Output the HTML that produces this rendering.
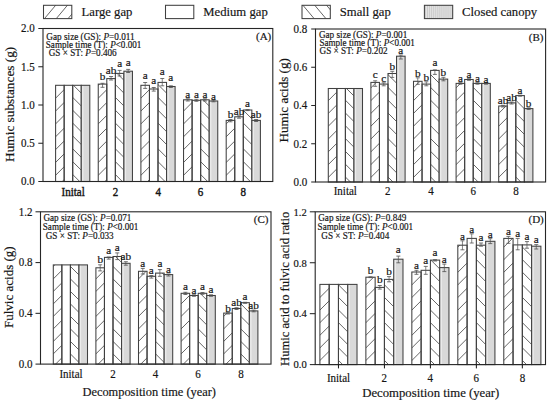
<!DOCTYPE html>
<html><head><meta charset="utf-8"><style>
html,body{margin:0;padding:0;background:#fff;}
svg{display:block;}
text{font-family:"Liberation Serif", serif;fill:#141414;stroke:#141414;stroke-width:0.18px;}
</style></head><body>
<svg width="550" height="403" viewBox="0 0 550 403">
<rect width="550" height="403" fill="#fff"/>
<clipPath id="c0"><rect x="43.5" y="5.3" width="28.3" height="13.3"/></clipPath>
<path clip-path="url(#c0)" d="M31.00 20.60L45.50 3.30M42.80 20.60L57.30 3.30M54.60 20.60L69.10 3.30M66.40 20.60L80.90 3.30" stroke="#4a4a4a" stroke-width="0.85" fill="none"/>
<rect x="43.5" y="5.3" width="28.3" height="13.3" fill="none" stroke="#404040" stroke-width="1.05"/>
<text transform="translate(81.50,16.20) scale(0.955,1)" font-size="13.30" text-anchor="start" font-weight="normal" >Large gap</text>
<rect x="165.5" y="5.3" width="28.3" height="13.3" fill="none" stroke="#404040" stroke-width="1.05"/>
<text transform="translate(203.20,16.20) scale(0.955,1)" font-size="13.30" text-anchor="start" font-weight="normal" >Medium gap</text>
<clipPath id="c2"><rect x="302.0" y="5.3" width="28.3" height="13.3"/></clipPath>
<path clip-path="url(#c2)" d="M289.50 3.30L304.00 20.60M301.30 3.30L315.80 20.60M313.10 3.30L327.60 20.60M324.90 3.30L339.40 20.60" stroke="#4a4a4a" stroke-width="0.85" fill="none"/>
<rect x="302.0" y="5.3" width="28.3" height="13.3" fill="none" stroke="#404040" stroke-width="1.05"/>
<text transform="translate(339.70,16.20) scale(0.955,1)" font-size="13.30" text-anchor="start" font-weight="normal" >Small gap</text>
<rect x="424.4" y="5.3" width="28.3" height="13.3" fill="#e4e4e4"/>
<rect x="425.00" y="5.3" width="1.0" height="13.3" fill="#cacaca"/><rect x="427.05" y="5.3" width="1.0" height="13.3" fill="#cacaca"/><rect x="429.10" y="5.3" width="1.0" height="13.3" fill="#cacaca"/><rect x="431.15" y="5.3" width="1.0" height="13.3" fill="#cacaca"/><rect x="433.20" y="5.3" width="1.0" height="13.3" fill="#cacaca"/><rect x="435.25" y="5.3" width="1.0" height="13.3" fill="#cacaca"/><rect x="437.30" y="5.3" width="1.0" height="13.3" fill="#cacaca"/><rect x="439.35" y="5.3" width="1.0" height="13.3" fill="#cacaca"/><rect x="441.40" y="5.3" width="1.0" height="13.3" fill="#cacaca"/><rect x="443.45" y="5.3" width="1.0" height="13.3" fill="#cacaca"/><rect x="445.50" y="5.3" width="1.0" height="13.3" fill="#cacaca"/><rect x="447.55" y="5.3" width="1.0" height="13.3" fill="#cacaca"/><rect x="449.60" y="5.3" width="1.0" height="13.3" fill="#cacaca"/><rect x="451.65" y="5.3" width="1.0" height="13.3" fill="#cacaca"/>
<rect x="424.4" y="5.3" width="28.3" height="13.3" fill="none" stroke="#404040" stroke-width="1.05"/>
<text transform="translate(462.10,16.20) scale(0.955,1)" font-size="13.30" text-anchor="start" font-weight="normal" >Closed canopy</text>
<clipPath id="c4"><rect x="55.60" y="85.30" width="8.55" height="96.20"/></clipPath>
<path clip-path="url(#c4)" d="M55.10 60.15L64.65 50.60M55.10 73.00L64.65 63.45M55.10 85.85L64.65 76.30M55.10 98.70L64.65 89.15M55.10 111.55L64.65 102.00M55.10 124.40L64.65 114.85M55.10 137.25L64.65 127.70M55.10 150.10L64.65 140.55M55.10 162.95L64.65 153.40M55.10 175.80L64.65 166.25M55.10 188.65L64.65 179.10M55.10 201.50L64.65 191.95M55.10 214.35L64.65 204.80" stroke="#4a4a4a" stroke-width="0.85" fill="none"/>
<rect x="55.60" y="85.30" width="8.55" height="96.20" fill="none" stroke="#404040" stroke-width="1.05"/>
<rect x="64.15" y="85.30" width="8.55" height="96.20" fill="none" stroke="#404040" stroke-width="1.05"/>
<clipPath id="c6"><rect x="72.70" y="85.30" width="8.55" height="96.20"/></clipPath>
<path clip-path="url(#c6)" d="M72.20 58.35L81.75 67.90M72.20 71.20L81.75 80.75M72.20 84.05L81.75 93.60M72.20 96.90L81.75 106.45M72.20 109.75L81.75 119.30M72.20 122.60L81.75 132.15M72.20 135.45L81.75 145.00M72.20 148.30L81.75 157.85M72.20 161.15L81.75 170.70M72.20 174.00L81.75 183.55M72.20 186.85L81.75 196.40M72.20 199.70L81.75 209.25M72.20 212.55L81.75 222.10" stroke="#4a4a4a" stroke-width="0.85" fill="none"/>
<rect x="72.70" y="85.30" width="8.55" height="96.20" fill="none" stroke="#404040" stroke-width="1.05"/>
<rect x="81.25" y="85.30" width="8.55" height="96.20" fill="#d9d9d9"/>
<rect x="82.15" y="85.30" width="1.3" height="96.20" fill="#ececec"/>
<rect x="81.25" y="85.30" width="8.55" height="96.20" fill="none" stroke="#404040" stroke-width="1.05"/>
<clipPath id="c8"><rect x="98.25" y="84.10" width="8.55" height="97.40"/></clipPath>
<path clip-path="url(#c8)" d="M97.75 60.15L107.30 50.60M97.75 73.00L107.30 63.45M97.75 85.85L107.30 76.30M97.75 98.70L107.30 89.15M97.75 111.55L107.30 102.00M97.75 124.40L107.30 114.85M97.75 137.25L107.30 127.70M97.75 150.10L107.30 140.55M97.75 162.95L107.30 153.40M97.75 175.80L107.30 166.25M97.75 188.65L107.30 179.10M97.75 201.50L107.30 191.95M97.75 214.35L107.30 204.80" stroke="#4a4a4a" stroke-width="0.85" fill="none"/>
<rect x="98.25" y="84.10" width="8.55" height="97.40" fill="none" stroke="#404040" stroke-width="1.05"/>
<rect x="106.80" y="78.60" width="8.55" height="102.90" fill="none" stroke="#404040" stroke-width="1.05"/>
<clipPath id="c10"><rect x="115.35" y="73.40" width="8.55" height="108.10"/></clipPath>
<path clip-path="url(#c10)" d="M114.85 45.50L124.40 55.05M114.85 58.35L124.40 67.90M114.85 71.20L124.40 80.75M114.85 84.05L124.40 93.60M114.85 96.90L124.40 106.45M114.85 109.75L124.40 119.30M114.85 122.60L124.40 132.15M114.85 135.45L124.40 145.00M114.85 148.30L124.40 157.85M114.85 161.15L124.40 170.70M114.85 174.00L124.40 183.55M114.85 186.85L124.40 196.40M114.85 199.70L124.40 209.25M114.85 212.55L124.40 222.10" stroke="#4a4a4a" stroke-width="0.85" fill="none"/>
<rect x="115.35" y="73.40" width="8.55" height="108.10" fill="none" stroke="#404040" stroke-width="1.05"/>
<rect x="123.90" y="71.20" width="8.55" height="110.30" fill="#d9d9d9"/>
<rect x="124.80" y="71.20" width="1.3" height="110.30" fill="#ececec"/>
<rect x="123.90" y="71.20" width="8.55" height="110.30" fill="none" stroke="#404040" stroke-width="1.05"/>
<line x1="102.53" y1="83.30" x2="102.53" y2="87.30" stroke="#505050" stroke-width="0.7"/>
<line x1="100.53" y1="83.30" x2="104.53" y2="83.30" stroke="#505050" stroke-width="0.8"/>
<line x1="100.53" y1="87.30" x2="104.53" y2="87.30" stroke="#505050" stroke-width="0.8"/>
<text x="102.53" y="80.00" font-size="11.2" text-anchor="middle" font-weight="normal" >b</text>
<line x1="111.08" y1="76.50" x2="111.08" y2="80.00" stroke="#505050" stroke-width="0.7"/>
<line x1="109.08" y1="76.50" x2="113.08" y2="76.50" stroke="#505050" stroke-width="0.8"/>
<line x1="109.08" y1="80.00" x2="113.08" y2="80.00" stroke="#505050" stroke-width="0.8"/>
<text x="111.08" y="74.40" font-size="11.2" text-anchor="middle" font-weight="normal" >ab</text>
<line x1="119.62" y1="70.40" x2="119.62" y2="76.00" stroke="#505050" stroke-width="0.7"/>
<line x1="117.62" y1="70.40" x2="121.62" y2="70.40" stroke="#505050" stroke-width="0.8"/>
<line x1="117.62" y1="76.00" x2="121.62" y2="76.00" stroke="#505050" stroke-width="0.8"/>
<text x="119.62" y="67.00" font-size="11.2" text-anchor="middle" font-weight="normal" >a</text>
<line x1="128.18" y1="69.40" x2="128.18" y2="72.50" stroke="#505050" stroke-width="0.7"/>
<line x1="126.18" y1="69.40" x2="130.18" y2="69.40" stroke="#505050" stroke-width="0.8"/>
<line x1="126.18" y1="72.50" x2="130.18" y2="72.50" stroke="#505050" stroke-width="0.8"/>
<text x="128.18" y="65.50" font-size="11.2" text-anchor="middle" font-weight="normal" >a</text>
<clipPath id="c12"><rect x="140.90" y="85.30" width="8.55" height="96.20"/></clipPath>
<path clip-path="url(#c12)" d="M140.40 60.15L149.95 50.60M140.40 73.00L149.95 63.45M140.40 85.85L149.95 76.30M140.40 98.70L149.95 89.15M140.40 111.55L149.95 102.00M140.40 124.40L149.95 114.85M140.40 137.25L149.95 127.70M140.40 150.10L149.95 140.55M140.40 162.95L149.95 153.40M140.40 175.80L149.95 166.25M140.40 188.65L149.95 179.10M140.40 201.50L149.95 191.95M140.40 214.35L149.95 204.80" stroke="#4a4a4a" stroke-width="0.85" fill="none"/>
<rect x="140.90" y="85.30" width="8.55" height="96.20" fill="none" stroke="#404040" stroke-width="1.05"/>
<rect x="149.45" y="89.00" width="8.55" height="92.50" fill="none" stroke="#404040" stroke-width="1.05"/>
<clipPath id="c14"><rect x="158.00" y="82.40" width="8.55" height="99.10"/></clipPath>
<path clip-path="url(#c14)" d="M157.50 58.35L167.05 67.90M157.50 71.20L167.05 80.75M157.50 84.05L167.05 93.60M157.50 96.90L167.05 106.45M157.50 109.75L167.05 119.30M157.50 122.60L167.05 132.15M157.50 135.45L167.05 145.00M157.50 148.30L167.05 157.85M157.50 161.15L167.05 170.70M157.50 174.00L167.05 183.55M157.50 186.85L167.05 196.40M157.50 199.70L167.05 209.25M157.50 212.55L167.05 222.10" stroke="#4a4a4a" stroke-width="0.85" fill="none"/>
<rect x="158.00" y="82.40" width="8.55" height="99.10" fill="none" stroke="#404040" stroke-width="1.05"/>
<rect x="166.55" y="86.50" width="8.55" height="95.00" fill="#d9d9d9"/>
<rect x="167.45" y="86.50" width="1.3" height="95.00" fill="#ececec"/>
<rect x="166.55" y="86.50" width="8.55" height="95.00" fill="none" stroke="#404040" stroke-width="1.05"/>
<line x1="145.18" y1="82.50" x2="145.18" y2="88.40" stroke="#505050" stroke-width="0.7"/>
<line x1="143.18" y1="82.50" x2="147.18" y2="82.50" stroke="#505050" stroke-width="0.8"/>
<line x1="143.18" y1="88.40" x2="147.18" y2="88.40" stroke="#505050" stroke-width="0.8"/>
<text x="145.18" y="78.50" font-size="11.2" text-anchor="middle" font-weight="normal" >a</text>
<line x1="153.73" y1="87.50" x2="153.73" y2="91.10" stroke="#505050" stroke-width="0.7"/>
<line x1="151.73" y1="87.50" x2="155.73" y2="87.50" stroke="#505050" stroke-width="0.8"/>
<line x1="151.73" y1="91.10" x2="155.73" y2="91.10" stroke="#505050" stroke-width="0.8"/>
<text x="153.73" y="84.40" font-size="11.2" text-anchor="middle" font-weight="normal" >a</text>
<line x1="162.28" y1="78.50" x2="162.28" y2="85.80" stroke="#505050" stroke-width="0.7"/>
<line x1="160.28" y1="78.50" x2="164.28" y2="78.50" stroke="#505050" stroke-width="0.8"/>
<line x1="160.28" y1="85.80" x2="164.28" y2="85.80" stroke="#505050" stroke-width="0.8"/>
<text x="162.28" y="74.90" font-size="11.2" text-anchor="middle" font-weight="normal" >a</text>
<line x1="170.83" y1="85.80" x2="170.83" y2="87.50" stroke="#505050" stroke-width="0.7"/>
<line x1="168.83" y1="85.80" x2="172.83" y2="85.80" stroke="#505050" stroke-width="0.8"/>
<line x1="168.83" y1="87.50" x2="172.83" y2="87.50" stroke="#505050" stroke-width="0.8"/>
<text x="170.83" y="80.70" font-size="11.2" text-anchor="middle" font-weight="normal" >a</text>
<clipPath id="c16"><rect x="183.55" y="99.80" width="8.55" height="81.70"/></clipPath>
<path clip-path="url(#c16)" d="M183.05 73.00L192.60 63.45M183.05 85.85L192.60 76.30M183.05 98.70L192.60 89.15M183.05 111.55L192.60 102.00M183.05 124.40L192.60 114.85M183.05 137.25L192.60 127.70M183.05 150.10L192.60 140.55M183.05 162.95L192.60 153.40M183.05 175.80L192.60 166.25M183.05 188.65L192.60 179.10M183.05 201.50L192.60 191.95M183.05 214.35L192.60 204.80" stroke="#4a4a4a" stroke-width="0.85" fill="none"/>
<rect x="183.55" y="99.80" width="8.55" height="81.70" fill="none" stroke="#404040" stroke-width="1.05"/>
<rect x="192.10" y="100.30" width="8.55" height="81.20" fill="none" stroke="#404040" stroke-width="1.05"/>
<clipPath id="c18"><rect x="200.65" y="99.80" width="8.55" height="81.70"/></clipPath>
<path clip-path="url(#c18)" d="M200.15 71.20L209.70 80.75M200.15 84.05L209.70 93.60M200.15 96.90L209.70 106.45M200.15 109.75L209.70 119.30M200.15 122.60L209.70 132.15M200.15 135.45L209.70 145.00M200.15 148.30L209.70 157.85M200.15 161.15L209.70 170.70M200.15 174.00L209.70 183.55M200.15 186.85L209.70 196.40M200.15 199.70L209.70 209.25M200.15 212.55L209.70 222.10" stroke="#4a4a4a" stroke-width="0.85" fill="none"/>
<rect x="200.65" y="99.80" width="8.55" height="81.70" fill="none" stroke="#404040" stroke-width="1.05"/>
<rect x="209.20" y="101.00" width="8.55" height="80.50" fill="#d9d9d9"/>
<rect x="210.10" y="101.00" width="1.3" height="80.50" fill="#ececec"/>
<rect x="209.20" y="101.00" width="8.55" height="80.50" fill="none" stroke="#404040" stroke-width="1.05"/>
<line x1="187.82" y1="98.80" x2="187.82" y2="101.00" stroke="#505050" stroke-width="0.7"/>
<line x1="185.82" y1="98.80" x2="189.82" y2="98.80" stroke="#505050" stroke-width="0.8"/>
<line x1="185.82" y1="101.00" x2="189.82" y2="101.00" stroke="#505050" stroke-width="0.8"/>
<text x="187.82" y="98.00" font-size="11.2" text-anchor="middle" font-weight="normal" >a</text>
<line x1="196.38" y1="99.30" x2="196.38" y2="101.30" stroke="#505050" stroke-width="0.7"/>
<line x1="194.38" y1="99.30" x2="198.38" y2="99.30" stroke="#505050" stroke-width="0.8"/>
<line x1="194.38" y1="101.30" x2="198.38" y2="101.30" stroke="#505050" stroke-width="0.8"/>
<text x="196.38" y="97.50" font-size="11.2" text-anchor="middle" font-weight="normal" >a</text>
<line x1="204.92" y1="98.80" x2="204.92" y2="101.00" stroke="#505050" stroke-width="0.7"/>
<line x1="202.92" y1="98.80" x2="206.92" y2="98.80" stroke="#505050" stroke-width="0.8"/>
<line x1="202.92" y1="101.00" x2="206.92" y2="101.00" stroke="#505050" stroke-width="0.8"/>
<text x="204.92" y="98.00" font-size="11.2" text-anchor="middle" font-weight="normal" >a</text>
<line x1="213.47" y1="100.20" x2="213.47" y2="101.80" stroke="#505050" stroke-width="0.7"/>
<line x1="211.47" y1="100.20" x2="215.47" y2="100.20" stroke="#505050" stroke-width="0.8"/>
<line x1="211.47" y1="101.80" x2="215.47" y2="101.80" stroke="#505050" stroke-width="0.8"/>
<text x="213.47" y="99.50" font-size="11.2" text-anchor="middle" font-weight="normal" >a</text>
<clipPath id="c20"><rect x="226.20" y="120.40" width="8.55" height="61.10"/></clipPath>
<path clip-path="url(#c20)" d="M225.70 98.70L235.25 89.15M225.70 111.55L235.25 102.00M225.70 124.40L235.25 114.85M225.70 137.25L235.25 127.70M225.70 150.10L235.25 140.55M225.70 162.95L235.25 153.40M225.70 175.80L235.25 166.25M225.70 188.65L235.25 179.10M225.70 201.50L235.25 191.95M225.70 214.35L235.25 204.80" stroke="#4a4a4a" stroke-width="0.85" fill="none"/>
<rect x="226.20" y="120.40" width="8.55" height="61.10" fill="none" stroke="#404040" stroke-width="1.05"/>
<rect x="234.75" y="116.80" width="8.55" height="64.70" fill="none" stroke="#404040" stroke-width="1.05"/>
<clipPath id="c22"><rect x="243.30" y="110.00" width="8.55" height="71.50"/></clipPath>
<path clip-path="url(#c22)" d="M242.80 84.05L252.35 93.60M242.80 96.90L252.35 106.45M242.80 109.75L252.35 119.30M242.80 122.60L252.35 132.15M242.80 135.45L252.35 145.00M242.80 148.30L252.35 157.85M242.80 161.15L252.35 170.70M242.80 174.00L252.35 183.55M242.80 186.85L252.35 196.40M242.80 199.70L252.35 209.25M242.80 212.55L252.35 222.10" stroke="#4a4a4a" stroke-width="0.85" fill="none"/>
<rect x="243.30" y="110.00" width="8.55" height="71.50" fill="none" stroke="#404040" stroke-width="1.05"/>
<rect x="251.85" y="120.40" width="8.55" height="61.10" fill="#d9d9d9"/>
<rect x="252.75" y="120.40" width="1.3" height="61.10" fill="#ececec"/>
<rect x="251.85" y="120.40" width="8.55" height="61.10" fill="none" stroke="#404040" stroke-width="1.05"/>
<line x1="230.47" y1="119.50" x2="230.47" y2="121.80" stroke="#505050" stroke-width="0.7"/>
<line x1="228.47" y1="119.50" x2="232.47" y2="119.50" stroke="#505050" stroke-width="0.8"/>
<line x1="228.47" y1="121.80" x2="232.47" y2="121.80" stroke="#505050" stroke-width="0.8"/>
<text x="230.47" y="118.30" font-size="11.2" text-anchor="middle" font-weight="normal" >b</text>
<line x1="239.03" y1="115.80" x2="239.03" y2="118.20" stroke="#505050" stroke-width="0.7"/>
<line x1="237.03" y1="115.80" x2="241.03" y2="115.80" stroke="#505050" stroke-width="0.8"/>
<line x1="237.03" y1="118.20" x2="241.03" y2="118.20" stroke="#505050" stroke-width="0.8"/>
<text x="239.03" y="114.80" font-size="11.2" text-anchor="middle" font-weight="normal" >ab</text>
<line x1="247.57" y1="109.60" x2="247.57" y2="110.60" stroke="#505050" stroke-width="0.7"/>
<line x1="245.57" y1="109.60" x2="249.57" y2="109.60" stroke="#505050" stroke-width="0.8"/>
<line x1="245.57" y1="110.60" x2="249.57" y2="110.60" stroke="#505050" stroke-width="0.8"/>
<text x="247.57" y="107.10" font-size="11.2" text-anchor="middle" font-weight="normal" >a</text>
<line x1="256.12" y1="119.50" x2="256.12" y2="121.50" stroke="#505050" stroke-width="0.7"/>
<line x1="254.12" y1="119.50" x2="258.12" y2="119.50" stroke="#505050" stroke-width="0.8"/>
<line x1="254.12" y1="121.50" x2="258.12" y2="121.50" stroke="#505050" stroke-width="0.8"/>
<text x="256.12" y="118.30" font-size="11.2" text-anchor="middle" font-weight="normal" >ab</text>
<rect x="43.00" y="28.50" width="229.80" height="153.00" fill="none" stroke="#262626" stroke-width="1.1"/>
<line x1="38.30" y1="181.50" x2="43.00" y2="181.50" stroke="#262626" stroke-width="1.05"/>
<text transform="translate(34.80,185.30) scale(0.94,1)" font-size="11.70" text-anchor="end" font-weight="normal" >0.0</text>
<line x1="38.30" y1="143.25" x2="43.00" y2="143.25" stroke="#262626" stroke-width="1.05"/>
<text transform="translate(34.80,147.05) scale(0.94,1)" font-size="11.70" text-anchor="end" font-weight="normal" >0.5</text>
<line x1="38.30" y1="105.00" x2="43.00" y2="105.00" stroke="#262626" stroke-width="1.05"/>
<text transform="translate(34.80,108.80) scale(0.94,1)" font-size="11.70" text-anchor="end" font-weight="normal" >1.0</text>
<line x1="38.30" y1="66.75" x2="43.00" y2="66.75" stroke="#262626" stroke-width="1.05"/>
<text transform="translate(34.80,70.55) scale(0.94,1)" font-size="11.70" text-anchor="end" font-weight="normal" >1.5</text>
<line x1="38.30" y1="28.50" x2="43.00" y2="28.50" stroke="#262626" stroke-width="1.05"/>
<text transform="translate(34.80,32.30) scale(0.94,1)" font-size="11.70" text-anchor="end" font-weight="normal" >2.0</text>
<text transform="translate(73.10,195.70) scale(0.94,1)" font-size="11.70" text-anchor="middle" font-weight="normal" style="stroke-width:0.38px">Inital</text>
<text transform="translate(115.40,195.70) scale(0.94,1)" font-size="11.70" text-anchor="middle" font-weight="normal" style="stroke-width:0.38px">2</text>
<text transform="translate(158.30,195.70) scale(0.94,1)" font-size="11.70" text-anchor="middle" font-weight="normal" style="stroke-width:0.38px">4</text>
<text transform="translate(200.60,195.70) scale(0.94,1)" font-size="11.70" text-anchor="middle" font-weight="normal" style="stroke-width:0.38px">6</text>
<text transform="translate(243.20,195.70) scale(0.94,1)" font-size="11.70" text-anchor="middle" font-weight="normal" style="stroke-width:0.38px">8</text>
<text x="46.30" y="39.80" font-size="9.7" text-anchor="start" font-weight="normal" textLength="88.4" lengthAdjust="spacingAndGlyphs">Gap size (GS): <tspan font-style="italic">P</tspan>=0.011</text>
<text x="45.80" y="47.60" font-size="9.7" text-anchor="start" font-weight="normal" textLength="95.5" lengthAdjust="spacingAndGlyphs">Sample time (T): <tspan font-style="italic">P</tspan>&lt;0.001</text>
<text x="48.70" y="55.60" font-size="9.7" text-anchor="start" font-weight="normal" textLength="68.0" lengthAdjust="spacingAndGlyphs">GS × ST: <tspan font-style="italic">P</tspan>=0.406</text>
<text x="271.30" y="39.60" font-size="11" text-anchor="end" font-weight="normal" >(A)</text>
<text x="0" y="0" font-size="13.3" text-anchor="middle" transform="translate(13.60,104.30) rotate(-90)">Humic substances (g)</text>
<clipPath id="c24"><rect x="328.30" y="88.50" width="8.55" height="93.50"/></clipPath>
<path clip-path="url(#c24)" d="M327.80 62.70L337.35 53.15M327.80 75.50L337.35 65.95M327.80 88.30L337.35 78.75M327.80 101.10L337.35 91.55M327.80 113.90L337.35 104.35M327.80 126.70L337.35 117.15M327.80 139.50L337.35 129.95M327.80 152.30L337.35 142.75M327.80 165.10L337.35 155.55M327.80 177.90L337.35 168.35M327.80 190.70L337.35 181.15M327.80 203.50L337.35 193.95M327.80 216.30L337.35 206.75" stroke="#4a4a4a" stroke-width="0.85" fill="none"/>
<rect x="328.30" y="88.50" width="8.55" height="93.50" fill="none" stroke="#404040" stroke-width="1.05"/>
<rect x="336.85" y="88.50" width="8.55" height="93.50" fill="none" stroke="#404040" stroke-width="1.05"/>
<clipPath id="c26"><rect x="345.40" y="88.50" width="8.55" height="93.50"/></clipPath>
<path clip-path="url(#c26)" d="M344.90 61.30L354.45 70.85M344.90 74.10L354.45 83.65M344.90 86.90L354.45 96.45M344.90 99.70L354.45 109.25M344.90 112.50L354.45 122.05M344.90 125.30L354.45 134.85M344.90 138.10L354.45 147.65M344.90 150.90L354.45 160.45M344.90 163.70L354.45 173.25M344.90 176.50L354.45 186.05M344.90 189.30L354.45 198.85M344.90 202.10L354.45 211.65M344.90 214.90L354.45 224.45" stroke="#4a4a4a" stroke-width="0.85" fill="none"/>
<rect x="345.40" y="88.50" width="8.55" height="93.50" fill="none" stroke="#404040" stroke-width="1.05"/>
<rect x="353.95" y="88.50" width="8.55" height="93.50" fill="#d9d9d9"/>
<rect x="354.85" y="88.50" width="1.3" height="93.50" fill="#ececec"/>
<rect x="353.95" y="88.50" width="8.55" height="93.50" fill="none" stroke="#404040" stroke-width="1.05"/>
<clipPath id="c28"><rect x="370.90" y="82.40" width="8.55" height="99.60"/></clipPath>
<path clip-path="url(#c28)" d="M370.40 49.90L379.95 40.35M370.40 62.70L379.95 53.15M370.40 75.50L379.95 65.95M370.40 88.30L379.95 78.75M370.40 101.10L379.95 91.55M370.40 113.90L379.95 104.35M370.40 126.70L379.95 117.15M370.40 139.50L379.95 129.95M370.40 152.30L379.95 142.75M370.40 165.10L379.95 155.55M370.40 177.90L379.95 168.35M370.40 190.70L379.95 181.15M370.40 203.50L379.95 193.95M370.40 216.30L379.95 206.75" stroke="#4a4a4a" stroke-width="0.85" fill="none"/>
<rect x="370.90" y="82.40" width="8.55" height="99.60" fill="none" stroke="#404040" stroke-width="1.05"/>
<rect x="379.45" y="84.10" width="8.55" height="97.90" fill="none" stroke="#404040" stroke-width="1.05"/>
<clipPath id="c30"><rect x="388.00" y="73.50" width="8.55" height="108.50"/></clipPath>
<path clip-path="url(#c30)" d="M387.50 48.50L397.05 58.05M387.50 61.30L397.05 70.85M387.50 74.10L397.05 83.65M387.50 86.90L397.05 96.45M387.50 99.70L397.05 109.25M387.50 112.50L397.05 122.05M387.50 125.30L397.05 134.85M387.50 138.10L397.05 147.65M387.50 150.90L397.05 160.45M387.50 163.70L397.05 173.25M387.50 176.50L397.05 186.05M387.50 189.30L397.05 198.85M387.50 202.10L397.05 211.65M387.50 214.90L397.05 224.45" stroke="#4a4a4a" stroke-width="0.85" fill="none"/>
<rect x="388.00" y="73.50" width="8.55" height="108.50" fill="none" stroke="#404040" stroke-width="1.05"/>
<rect x="396.55" y="56.20" width="8.55" height="125.80" fill="#d9d9d9"/>
<rect x="397.45" y="56.20" width="1.3" height="125.80" fill="#ececec"/>
<rect x="396.55" y="56.20" width="8.55" height="125.80" fill="none" stroke="#404040" stroke-width="1.05"/>
<line x1="375.18" y1="80.80" x2="375.18" y2="86.30" stroke="#505050" stroke-width="0.7"/>
<line x1="373.18" y1="80.80" x2="377.18" y2="80.80" stroke="#505050" stroke-width="0.8"/>
<line x1="373.18" y1="86.30" x2="377.18" y2="86.30" stroke="#505050" stroke-width="0.8"/>
<text x="375.18" y="78.00" font-size="11.2" text-anchor="middle" font-weight="normal" >c</text>
<line x1="383.73" y1="82.80" x2="383.73" y2="85.80" stroke="#505050" stroke-width="0.7"/>
<line x1="381.73" y1="82.80" x2="385.73" y2="82.80" stroke="#505050" stroke-width="0.8"/>
<line x1="381.73" y1="85.80" x2="385.73" y2="85.80" stroke="#505050" stroke-width="0.8"/>
<text x="383.73" y="81.90" font-size="11.2" text-anchor="middle" font-weight="normal" >c</text>
<line x1="392.28" y1="71.30" x2="392.28" y2="77.40" stroke="#505050" stroke-width="0.7"/>
<line x1="390.28" y1="71.30" x2="394.28" y2="71.30" stroke="#505050" stroke-width="0.8"/>
<line x1="390.28" y1="77.40" x2="394.28" y2="77.40" stroke="#505050" stroke-width="0.8"/>
<text x="392.28" y="70.10" font-size="11.2" text-anchor="middle" font-weight="normal" >b</text>
<line x1="400.82" y1="55.00" x2="400.82" y2="59.00" stroke="#505050" stroke-width="0.7"/>
<line x1="398.82" y1="55.00" x2="402.82" y2="55.00" stroke="#505050" stroke-width="0.8"/>
<line x1="398.82" y1="59.00" x2="402.82" y2="59.00" stroke="#505050" stroke-width="0.8"/>
<text x="400.82" y="54.20" font-size="11.2" text-anchor="middle" font-weight="normal" >a</text>
<clipPath id="c32"><rect x="413.50" y="81.30" width="8.55" height="100.70"/></clipPath>
<path clip-path="url(#c32)" d="M413.00 49.90L422.55 40.35M413.00 62.70L422.55 53.15M413.00 75.50L422.55 65.95M413.00 88.30L422.55 78.75M413.00 101.10L422.55 91.55M413.00 113.90L422.55 104.35M413.00 126.70L422.55 117.15M413.00 139.50L422.55 129.95M413.00 152.30L422.55 142.75M413.00 165.10L422.55 155.55M413.00 177.90L422.55 168.35M413.00 190.70L422.55 181.15M413.00 203.50L422.55 193.95M413.00 216.30L422.55 206.75" stroke="#4a4a4a" stroke-width="0.85" fill="none"/>
<rect x="413.50" y="81.30" width="8.55" height="100.70" fill="none" stroke="#404040" stroke-width="1.05"/>
<rect x="422.05" y="84.10" width="8.55" height="97.90" fill="none" stroke="#404040" stroke-width="1.05"/>
<clipPath id="c34"><rect x="430.60" y="70.40" width="8.55" height="111.60"/></clipPath>
<path clip-path="url(#c34)" d="M430.10 48.50L439.65 58.05M430.10 61.30L439.65 70.85M430.10 74.10L439.65 83.65M430.10 86.90L439.65 96.45M430.10 99.70L439.65 109.25M430.10 112.50L439.65 122.05M430.10 125.30L439.65 134.85M430.10 138.10L439.65 147.65M430.10 150.90L439.65 160.45M430.10 163.70L439.65 173.25M430.10 176.50L439.65 186.05M430.10 189.30L439.65 198.85M430.10 202.10L439.65 211.65M430.10 214.90L439.65 224.45" stroke="#4a4a4a" stroke-width="0.85" fill="none"/>
<rect x="430.60" y="70.40" width="8.55" height="111.60" fill="none" stroke="#404040" stroke-width="1.05"/>
<rect x="439.15" y="79.10" width="8.55" height="102.90" fill="#d9d9d9"/>
<rect x="440.05" y="79.10" width="1.3" height="102.90" fill="#ececec"/>
<rect x="439.15" y="79.10" width="8.55" height="102.90" fill="none" stroke="#404040" stroke-width="1.05"/>
<line x1="417.77" y1="77.80" x2="417.77" y2="84.30" stroke="#505050" stroke-width="0.7"/>
<line x1="415.77" y1="77.80" x2="419.77" y2="77.80" stroke="#505050" stroke-width="0.8"/>
<line x1="415.77" y1="84.30" x2="419.77" y2="84.30" stroke="#505050" stroke-width="0.8"/>
<text x="417.77" y="76.80" font-size="11.2" text-anchor="middle" font-weight="normal" >b</text>
<line x1="426.32" y1="81.80" x2="426.32" y2="85.80" stroke="#505050" stroke-width="0.7"/>
<line x1="424.32" y1="81.80" x2="428.32" y2="81.80" stroke="#505050" stroke-width="0.8"/>
<line x1="424.32" y1="85.80" x2="428.32" y2="85.80" stroke="#505050" stroke-width="0.8"/>
<text x="426.32" y="81.30" font-size="11.2" text-anchor="middle" font-weight="normal" >b</text>
<line x1="434.88" y1="69.90" x2="434.88" y2="74.40" stroke="#505050" stroke-width="0.7"/>
<line x1="432.88" y1="69.90" x2="436.88" y2="69.90" stroke="#505050" stroke-width="0.8"/>
<line x1="432.88" y1="74.40" x2="436.88" y2="74.40" stroke="#505050" stroke-width="0.8"/>
<text x="434.88" y="66.40" font-size="11.2" text-anchor="middle" font-weight="normal" >a</text>
<line x1="443.42" y1="77.30" x2="443.42" y2="80.80" stroke="#505050" stroke-width="0.7"/>
<line x1="441.42" y1="77.30" x2="445.42" y2="77.30" stroke="#505050" stroke-width="0.8"/>
<line x1="441.42" y1="80.80" x2="445.42" y2="80.80" stroke="#505050" stroke-width="0.8"/>
<text x="443.42" y="75.80" font-size="11.2" text-anchor="middle" font-weight="normal" >b</text>
<clipPath id="c36"><rect x="456.10" y="83.40" width="8.55" height="98.60"/></clipPath>
<path clip-path="url(#c36)" d="M455.60 49.90L465.15 40.35M455.60 62.70L465.15 53.15M455.60 75.50L465.15 65.95M455.60 88.30L465.15 78.75M455.60 101.10L465.15 91.55M455.60 113.90L465.15 104.35M455.60 126.70L465.15 117.15M455.60 139.50L465.15 129.95M455.60 152.30L465.15 142.75M455.60 165.10L465.15 155.55M455.60 177.90L465.15 168.35M455.60 190.70L465.15 181.15M455.60 203.50L465.15 193.95M455.60 216.30L465.15 206.75" stroke="#4a4a4a" stroke-width="0.85" fill="none"/>
<rect x="456.10" y="83.40" width="8.55" height="98.60" fill="none" stroke="#404040" stroke-width="1.05"/>
<rect x="464.65" y="79.50" width="8.55" height="102.50" fill="none" stroke="#404040" stroke-width="1.05"/>
<clipPath id="c38"><rect x="473.20" y="83.40" width="8.55" height="98.60"/></clipPath>
<path clip-path="url(#c38)" d="M472.70 61.30L482.25 70.85M472.70 74.10L482.25 83.65M472.70 86.90L482.25 96.45M472.70 99.70L482.25 109.25M472.70 112.50L482.25 122.05M472.70 125.30L482.25 134.85M472.70 138.10L482.25 147.65M472.70 150.90L482.25 160.45M472.70 163.70L482.25 173.25M472.70 176.50L482.25 186.05M472.70 189.30L482.25 198.85M472.70 202.10L482.25 211.65M472.70 214.90L482.25 224.45" stroke="#4a4a4a" stroke-width="0.85" fill="none"/>
<rect x="473.20" y="83.40" width="8.55" height="98.60" fill="none" stroke="#404040" stroke-width="1.05"/>
<rect x="481.75" y="83.40" width="8.55" height="98.60" fill="#d9d9d9"/>
<rect x="482.65" y="83.40" width="1.3" height="98.60" fill="#ececec"/>
<rect x="481.75" y="83.40" width="8.55" height="98.60" fill="none" stroke="#404040" stroke-width="1.05"/>
<line x1="460.38" y1="82.70" x2="460.38" y2="84.20" stroke="#505050" stroke-width="0.7"/>
<line x1="458.38" y1="82.70" x2="462.38" y2="82.70" stroke="#505050" stroke-width="0.8"/>
<line x1="458.38" y1="84.20" x2="462.38" y2="84.20" stroke="#505050" stroke-width="0.8"/>
<text x="460.38" y="81.80" font-size="11.2" text-anchor="middle" font-weight="normal" >a</text>
<line x1="468.93" y1="78.70" x2="468.93" y2="80.30" stroke="#505050" stroke-width="0.7"/>
<line x1="466.93" y1="78.70" x2="470.93" y2="78.70" stroke="#505050" stroke-width="0.8"/>
<line x1="466.93" y1="80.30" x2="470.93" y2="80.30" stroke="#505050" stroke-width="0.8"/>
<text x="468.93" y="77.50" font-size="11.2" text-anchor="middle" font-weight="normal" >a</text>
<line x1="477.48" y1="82.70" x2="477.48" y2="84.20" stroke="#505050" stroke-width="0.7"/>
<line x1="475.48" y1="82.70" x2="479.48" y2="82.70" stroke="#505050" stroke-width="0.8"/>
<line x1="475.48" y1="84.20" x2="479.48" y2="84.20" stroke="#505050" stroke-width="0.8"/>
<text x="477.48" y="82.20" font-size="11.2" text-anchor="middle" font-weight="normal" >a</text>
<line x1="486.02" y1="82.70" x2="486.02" y2="84.20" stroke="#505050" stroke-width="0.7"/>
<line x1="484.02" y1="82.70" x2="488.02" y2="82.70" stroke="#505050" stroke-width="0.8"/>
<line x1="484.02" y1="84.20" x2="488.02" y2="84.20" stroke="#505050" stroke-width="0.8"/>
<text x="486.02" y="82.90" font-size="11.2" text-anchor="middle" font-weight="normal" >a</text>
<clipPath id="c40"><rect x="498.70" y="106.00" width="8.55" height="76.00"/></clipPath>
<path clip-path="url(#c40)" d="M498.20 75.50L507.75 65.95M498.20 88.30L507.75 78.75M498.20 101.10L507.75 91.55M498.20 113.90L507.75 104.35M498.20 126.70L507.75 117.15M498.20 139.50L507.75 129.95M498.20 152.30L507.75 142.75M498.20 165.10L507.75 155.55M498.20 177.90L507.75 168.35M498.20 190.70L507.75 181.15M498.20 203.50L507.75 193.95M498.20 216.30L507.75 206.75" stroke="#4a4a4a" stroke-width="0.85" fill="none"/>
<rect x="498.70" y="106.00" width="8.55" height="76.00" fill="none" stroke="#404040" stroke-width="1.05"/>
<rect x="507.25" y="102.90" width="8.55" height="79.10" fill="none" stroke="#404040" stroke-width="1.05"/>
<clipPath id="c42"><rect x="515.80" y="95.60" width="8.55" height="86.40"/></clipPath>
<path clip-path="url(#c42)" d="M515.30 61.30L524.85 70.85M515.30 74.10L524.85 83.65M515.30 86.90L524.85 96.45M515.30 99.70L524.85 109.25M515.30 112.50L524.85 122.05M515.30 125.30L524.85 134.85M515.30 138.10L524.85 147.65M515.30 150.90L524.85 160.45M515.30 163.70L524.85 173.25M515.30 176.50L524.85 186.05M515.30 189.30L524.85 198.85M515.30 202.10L524.85 211.65M515.30 214.90L524.85 224.45" stroke="#4a4a4a" stroke-width="0.85" fill="none"/>
<rect x="515.80" y="95.60" width="8.55" height="86.40" fill="none" stroke="#404040" stroke-width="1.05"/>
<rect x="524.35" y="108.60" width="8.55" height="73.40" fill="#d9d9d9"/>
<rect x="525.25" y="108.60" width="1.3" height="73.40" fill="#ececec"/>
<rect x="524.35" y="108.60" width="8.55" height="73.40" fill="none" stroke="#404040" stroke-width="1.05"/>
<line x1="502.98" y1="105.30" x2="502.98" y2="107.00" stroke="#505050" stroke-width="0.7"/>
<line x1="500.98" y1="105.30" x2="504.98" y2="105.30" stroke="#505050" stroke-width="0.8"/>
<line x1="500.98" y1="107.00" x2="504.98" y2="107.00" stroke="#505050" stroke-width="0.8"/>
<text x="502.98" y="104.40" font-size="11.2" text-anchor="middle" font-weight="normal" >ab</text>
<line x1="511.53" y1="102.00" x2="511.53" y2="104.00" stroke="#505050" stroke-width="0.7"/>
<line x1="509.53" y1="102.00" x2="513.53" y2="102.00" stroke="#505050" stroke-width="0.8"/>
<line x1="509.53" y1="104.00" x2="513.53" y2="104.00" stroke="#505050" stroke-width="0.8"/>
<text x="511.53" y="101.30" font-size="11.2" text-anchor="middle" font-weight="normal" >ab</text>
<line x1="520.08" y1="95.20" x2="520.08" y2="96.20" stroke="#505050" stroke-width="0.7"/>
<line x1="518.08" y1="95.20" x2="522.08" y2="95.20" stroke="#505050" stroke-width="0.8"/>
<line x1="518.08" y1="96.20" x2="522.08" y2="96.20" stroke="#505050" stroke-width="0.8"/>
<text x="520.08" y="93.60" font-size="11.2" text-anchor="middle" font-weight="normal" >a</text>
<line x1="528.62" y1="107.80" x2="528.62" y2="109.50" stroke="#505050" stroke-width="0.7"/>
<line x1="526.62" y1="107.80" x2="530.62" y2="107.80" stroke="#505050" stroke-width="0.8"/>
<line x1="526.62" y1="109.50" x2="530.62" y2="109.50" stroke="#505050" stroke-width="0.8"/>
<text x="528.62" y="106.70" font-size="11.2" text-anchor="middle" font-weight="normal" >b</text>
<rect x="315.50" y="29.00" width="230.10" height="153.00" fill="none" stroke="#262626" stroke-width="1.1"/>
<line x1="311.20" y1="182.00" x2="315.50" y2="182.00" stroke="#262626" stroke-width="1.05"/>
<text transform="translate(307.20,185.80) scale(0.94,1)" font-size="11.70" text-anchor="end" font-weight="normal" >0.0</text>
<line x1="311.20" y1="143.75" x2="315.50" y2="143.75" stroke="#262626" stroke-width="1.05"/>
<text transform="translate(307.20,147.55) scale(0.94,1)" font-size="11.70" text-anchor="end" font-weight="normal" >0.2</text>
<line x1="311.20" y1="105.50" x2="315.50" y2="105.50" stroke="#262626" stroke-width="1.05"/>
<text transform="translate(307.20,109.30) scale(0.94,1)" font-size="11.70" text-anchor="end" font-weight="normal" >0.4</text>
<line x1="311.20" y1="67.25" x2="315.50" y2="67.25" stroke="#262626" stroke-width="1.05"/>
<text transform="translate(307.20,71.05) scale(0.94,1)" font-size="11.70" text-anchor="end" font-weight="normal" >0.6</text>
<line x1="311.20" y1="29.00" x2="315.50" y2="29.00" stroke="#262626" stroke-width="1.05"/>
<text transform="translate(307.20,32.80) scale(0.94,1)" font-size="11.70" text-anchor="end" font-weight="normal" >0.8</text>
<text transform="translate(345.30,195.30) scale(0.94,1)" font-size="11.70" text-anchor="middle" font-weight="normal" >Inital</text>
<text transform="translate(387.80,195.30) scale(0.94,1)" font-size="11.70" text-anchor="middle" font-weight="normal" >2</text>
<text transform="translate(430.90,195.30) scale(0.94,1)" font-size="11.70" text-anchor="middle" font-weight="normal" >4</text>
<text transform="translate(473.20,195.30) scale(0.94,1)" font-size="11.70" text-anchor="middle" font-weight="normal" >6</text>
<text transform="translate(515.90,195.30) scale(0.94,1)" font-size="11.70" text-anchor="middle" font-weight="normal" >8</text>
<text x="318.90" y="38.30" font-size="9.7" text-anchor="start" font-weight="normal" textLength="88.4" lengthAdjust="spacingAndGlyphs">Gap size (GS): <tspan font-style="italic">P</tspan>=0.001</text>
<text x="319.40" y="46.00" font-size="9.7" text-anchor="start" font-weight="normal" textLength="95.5" lengthAdjust="spacingAndGlyphs">Sample time (T): <tspan font-style="italic">P</tspan>&lt;0.001</text>
<text x="319.60" y="54.00" font-size="9.7" text-anchor="start" font-weight="normal" textLength="68.0" lengthAdjust="spacingAndGlyphs">GS × ST: <tspan font-style="italic">P</tspan>=0.202</text>
<text x="543.50" y="41.30" font-size="11" text-anchor="end" font-weight="normal" >(B)</text>
<text x="0" y="0" font-size="13.1" text-anchor="middle" transform="translate(288.00,100.30) rotate(-90)">Humic acids (g)</text>
<clipPath id="c44"><rect x="53.30" y="264.90" width="8.55" height="99.20"/></clipPath>
<path clip-path="url(#c44)" d="M52.80 241.90L62.35 232.35M52.80 254.40L62.35 244.85M52.80 266.90L62.35 257.35M52.80 279.40L62.35 269.85M52.80 291.90L62.35 282.35M52.80 304.40L62.35 294.85M52.80 316.90L62.35 307.35M52.80 329.40L62.35 319.85M52.80 341.90L62.35 332.35M52.80 354.40L62.35 344.85M52.80 366.90L62.35 357.35M52.80 379.40L62.35 369.85M52.80 391.90L62.35 382.35" stroke="#4a4a4a" stroke-width="0.85" fill="none"/>
<rect x="53.30" y="264.90" width="8.55" height="99.20" fill="none" stroke="#404040" stroke-width="1.05"/>
<rect x="61.85" y="264.90" width="8.55" height="99.20" fill="none" stroke="#404040" stroke-width="1.05"/>
<clipPath id="c46"><rect x="70.40" y="264.90" width="8.55" height="99.20"/></clipPath>
<path clip-path="url(#c46)" d="M69.90 240.90L79.45 250.45M69.90 253.40L79.45 262.95M69.90 265.90L79.45 275.45M69.90 278.40L79.45 287.95M69.90 290.90L79.45 300.45M69.90 303.40L79.45 312.95M69.90 315.90L79.45 325.45M69.90 328.40L79.45 337.95M69.90 340.90L79.45 350.45M69.90 353.40L79.45 362.95M69.90 365.90L79.45 375.45M69.90 378.40L79.45 387.95M69.90 390.90L79.45 400.45" stroke="#4a4a4a" stroke-width="0.85" fill="none"/>
<rect x="70.40" y="264.90" width="8.55" height="99.20" fill="none" stroke="#404040" stroke-width="1.05"/>
<rect x="78.95" y="264.90" width="8.55" height="99.20" fill="#d9d9d9"/>
<rect x="79.85" y="264.90" width="1.3" height="99.20" fill="#ececec"/>
<rect x="78.95" y="264.90" width="8.55" height="99.20" fill="none" stroke="#404040" stroke-width="1.05"/>
<clipPath id="c48"><rect x="95.90" y="267.80" width="8.55" height="96.30"/></clipPath>
<path clip-path="url(#c48)" d="M95.40 241.90L104.95 232.35M95.40 254.40L104.95 244.85M95.40 266.90L104.95 257.35M95.40 279.40L104.95 269.85M95.40 291.90L104.95 282.35M95.40 304.40L104.95 294.85M95.40 316.90L104.95 307.35M95.40 329.40L104.95 319.85M95.40 341.90L104.95 332.35M95.40 354.40L104.95 344.85M95.40 366.90L104.95 357.35M95.40 379.40L104.95 369.85M95.40 391.90L104.95 382.35" stroke="#4a4a4a" stroke-width="0.85" fill="none"/>
<rect x="95.90" y="267.80" width="8.55" height="96.30" fill="none" stroke="#404040" stroke-width="1.05"/>
<rect x="104.45" y="257.40" width="8.55" height="106.70" fill="none" stroke="#404040" stroke-width="1.05"/>
<clipPath id="c50"><rect x="113.00" y="256.50" width="8.55" height="107.60"/></clipPath>
<path clip-path="url(#c50)" d="M112.50 228.40L122.05 237.95M112.50 240.90L122.05 250.45M112.50 253.40L122.05 262.95M112.50 265.90L122.05 275.45M112.50 278.40L122.05 287.95M112.50 290.90L122.05 300.45M112.50 303.40L122.05 312.95M112.50 315.90L122.05 325.45M112.50 328.40L122.05 337.95M112.50 340.90L122.05 350.45M112.50 353.40L122.05 362.95M112.50 365.90L122.05 375.45M112.50 378.40L122.05 387.95M112.50 390.90L122.05 400.45" stroke="#4a4a4a" stroke-width="0.85" fill="none"/>
<rect x="113.00" y="256.50" width="8.55" height="107.60" fill="none" stroke="#404040" stroke-width="1.05"/>
<rect x="121.55" y="263.30" width="8.55" height="100.80" fill="#d9d9d9"/>
<rect x="122.45" y="263.30" width="1.3" height="100.80" fill="#ececec"/>
<rect x="121.55" y="263.30" width="8.55" height="100.80" fill="none" stroke="#404040" stroke-width="1.05"/>
<line x1="100.18" y1="264.80" x2="100.18" y2="270.90" stroke="#505050" stroke-width="0.7"/>
<line x1="98.18" y1="264.80" x2="102.18" y2="264.80" stroke="#505050" stroke-width="0.8"/>
<line x1="98.18" y1="270.90" x2="102.18" y2="270.90" stroke="#505050" stroke-width="0.8"/>
<text x="100.18" y="263.00" font-size="11.2" text-anchor="middle" font-weight="normal" >b</text>
<line x1="108.73" y1="257.00" x2="108.73" y2="259.10" stroke="#505050" stroke-width="0.7"/>
<line x1="106.73" y1="257.00" x2="110.73" y2="257.00" stroke="#505050" stroke-width="0.8"/>
<line x1="106.73" y1="259.10" x2="110.73" y2="259.10" stroke="#505050" stroke-width="0.8"/>
<text x="108.73" y="254.30" font-size="11.2" text-anchor="middle" font-weight="normal" >a</text>
<line x1="117.28" y1="252.90" x2="117.28" y2="259.60" stroke="#505050" stroke-width="0.7"/>
<line x1="115.28" y1="252.90" x2="119.28" y2="252.90" stroke="#505050" stroke-width="0.8"/>
<line x1="115.28" y1="259.60" x2="119.28" y2="259.60" stroke="#505050" stroke-width="0.8"/>
<text x="117.28" y="250.90" font-size="11.2" text-anchor="middle" font-weight="normal" >a</text>
<line x1="125.83" y1="261.70" x2="125.83" y2="265.20" stroke="#505050" stroke-width="0.7"/>
<line x1="123.83" y1="261.70" x2="127.83" y2="261.70" stroke="#505050" stroke-width="0.8"/>
<line x1="123.83" y1="265.20" x2="127.83" y2="265.20" stroke="#505050" stroke-width="0.8"/>
<text x="125.83" y="259.60" font-size="11.2" text-anchor="middle" font-weight="normal" >ab</text>
<clipPath id="c52"><rect x="138.50" y="271.30" width="8.55" height="92.80"/></clipPath>
<path clip-path="url(#c52)" d="M138.00 241.90L147.55 232.35M138.00 254.40L147.55 244.85M138.00 266.90L147.55 257.35M138.00 279.40L147.55 269.85M138.00 291.90L147.55 282.35M138.00 304.40L147.55 294.85M138.00 316.90L147.55 307.35M138.00 329.40L147.55 319.85M138.00 341.90L147.55 332.35M138.00 354.40L147.55 344.85M138.00 366.90L147.55 357.35M138.00 379.40L147.55 369.85M138.00 391.90L147.55 382.35" stroke="#4a4a4a" stroke-width="0.85" fill="none"/>
<rect x="138.50" y="271.30" width="8.55" height="92.80" fill="none" stroke="#404040" stroke-width="1.05"/>
<rect x="147.05" y="276.30" width="8.55" height="87.80" fill="none" stroke="#404040" stroke-width="1.05"/>
<clipPath id="c54"><rect x="155.60" y="273.10" width="8.55" height="91.00"/></clipPath>
<path clip-path="url(#c54)" d="M155.10 240.90L164.65 250.45M155.10 253.40L164.65 262.95M155.10 265.90L164.65 275.45M155.10 278.40L164.65 287.95M155.10 290.90L164.65 300.45M155.10 303.40L164.65 312.95M155.10 315.90L164.65 325.45M155.10 328.40L164.65 337.95M155.10 340.90L164.65 350.45M155.10 353.40L164.65 362.95M155.10 365.90L164.65 375.45M155.10 378.40L164.65 387.95M155.10 390.90L164.65 400.45" stroke="#4a4a4a" stroke-width="0.85" fill="none"/>
<rect x="155.60" y="273.10" width="8.55" height="91.00" fill="none" stroke="#404040" stroke-width="1.05"/>
<rect x="164.15" y="274.60" width="8.55" height="89.50" fill="#d9d9d9"/>
<rect x="165.05" y="274.60" width="1.3" height="89.50" fill="#ececec"/>
<rect x="164.15" y="274.60" width="8.55" height="89.50" fill="none" stroke="#404040" stroke-width="1.05"/>
<line x1="142.78" y1="268.40" x2="142.78" y2="274.00" stroke="#505050" stroke-width="0.7"/>
<line x1="140.78" y1="268.40" x2="144.78" y2="268.40" stroke="#505050" stroke-width="0.8"/>
<line x1="140.78" y1="274.00" x2="144.78" y2="274.00" stroke="#505050" stroke-width="0.8"/>
<text x="142.78" y="266.80" font-size="11.2" text-anchor="middle" font-weight="normal" >a</text>
<line x1="151.33" y1="275.50" x2="151.33" y2="278.10" stroke="#505050" stroke-width="0.7"/>
<line x1="149.33" y1="275.50" x2="153.33" y2="275.50" stroke="#505050" stroke-width="0.8"/>
<line x1="149.33" y1="278.10" x2="153.33" y2="278.10" stroke="#505050" stroke-width="0.8"/>
<text x="151.33" y="274.30" font-size="11.2" text-anchor="middle" font-weight="normal" >a</text>
<line x1="159.88" y1="269.60" x2="159.88" y2="276.30" stroke="#505050" stroke-width="0.7"/>
<line x1="157.88" y1="269.60" x2="161.88" y2="269.60" stroke="#505050" stroke-width="0.8"/>
<line x1="157.88" y1="276.30" x2="161.88" y2="276.30" stroke="#505050" stroke-width="0.8"/>
<text x="159.88" y="267.30" font-size="11.2" text-anchor="middle" font-weight="normal" >a</text>
<line x1="168.43" y1="274.00" x2="168.43" y2="276.00" stroke="#505050" stroke-width="0.7"/>
<line x1="166.43" y1="274.00" x2="170.43" y2="274.00" stroke="#505050" stroke-width="0.8"/>
<line x1="166.43" y1="276.00" x2="170.43" y2="276.00" stroke="#505050" stroke-width="0.8"/>
<text x="168.43" y="272.90" font-size="11.2" text-anchor="middle" font-weight="normal" >a</text>
<clipPath id="c56"><rect x="181.10" y="293.30" width="8.55" height="70.80"/></clipPath>
<path clip-path="url(#c56)" d="M180.60 266.90L190.15 257.35M180.60 279.40L190.15 269.85M180.60 291.90L190.15 282.35M180.60 304.40L190.15 294.85M180.60 316.90L190.15 307.35M180.60 329.40L190.15 319.85M180.60 341.90L190.15 332.35M180.60 354.40L190.15 344.85M180.60 366.90L190.15 357.35M180.60 379.40L190.15 369.85M180.60 391.90L190.15 382.35" stroke="#4a4a4a" stroke-width="0.85" fill="none"/>
<rect x="181.10" y="293.30" width="8.55" height="70.80" fill="none" stroke="#404040" stroke-width="1.05"/>
<rect x="189.65" y="295.50" width="8.55" height="68.60" fill="none" stroke="#404040" stroke-width="1.05"/>
<clipPath id="c58"><rect x="198.20" y="293.30" width="8.55" height="70.80"/></clipPath>
<path clip-path="url(#c58)" d="M197.70 265.90L207.25 275.45M197.70 278.40L207.25 287.95M197.70 290.90L207.25 300.45M197.70 303.40L207.25 312.95M197.70 315.90L207.25 325.45M197.70 328.40L207.25 337.95M197.70 340.90L207.25 350.45M197.70 353.40L207.25 362.95M197.70 365.90L207.25 375.45M197.70 378.40L207.25 387.95M197.70 390.90L207.25 400.45" stroke="#4a4a4a" stroke-width="0.85" fill="none"/>
<rect x="198.20" y="293.30" width="8.55" height="70.80" fill="none" stroke="#404040" stroke-width="1.05"/>
<rect x="206.75" y="295.50" width="8.55" height="68.60" fill="#d9d9d9"/>
<rect x="207.65" y="295.50" width="1.3" height="68.60" fill="#ececec"/>
<rect x="206.75" y="295.50" width="8.55" height="68.60" fill="none" stroke="#404040" stroke-width="1.05"/>
<line x1="185.38" y1="292.30" x2="185.38" y2="294.50" stroke="#505050" stroke-width="0.7"/>
<line x1="183.38" y1="292.30" x2="187.38" y2="292.30" stroke="#505050" stroke-width="0.8"/>
<line x1="183.38" y1="294.50" x2="187.38" y2="294.50" stroke="#505050" stroke-width="0.8"/>
<text x="185.38" y="290.00" font-size="11.2" text-anchor="middle" font-weight="normal" >a</text>
<line x1="193.93" y1="294.80" x2="193.93" y2="296.30" stroke="#505050" stroke-width="0.7"/>
<line x1="191.93" y1="294.80" x2="195.93" y2="294.80" stroke="#505050" stroke-width="0.8"/>
<line x1="191.93" y1="296.30" x2="195.93" y2="296.30" stroke="#505050" stroke-width="0.8"/>
<text x="193.93" y="293.60" font-size="11.2" text-anchor="middle" font-weight="normal" >a</text>
<line x1="202.48" y1="292.50" x2="202.48" y2="294.30" stroke="#505050" stroke-width="0.7"/>
<line x1="200.48" y1="292.50" x2="204.48" y2="292.50" stroke="#505050" stroke-width="0.8"/>
<line x1="200.48" y1="294.30" x2="204.48" y2="294.30" stroke="#505050" stroke-width="0.8"/>
<text x="202.48" y="290.00" font-size="11.2" text-anchor="middle" font-weight="normal" >a</text>
<line x1="211.03" y1="294.80" x2="211.03" y2="296.30" stroke="#505050" stroke-width="0.7"/>
<line x1="209.03" y1="294.80" x2="213.03" y2="294.80" stroke="#505050" stroke-width="0.8"/>
<line x1="209.03" y1="296.30" x2="213.03" y2="296.30" stroke="#505050" stroke-width="0.8"/>
<text x="211.03" y="292.70" font-size="11.2" text-anchor="middle" font-weight="normal" >a</text>
<clipPath id="c60"><rect x="223.70" y="313.10" width="8.55" height="51.00"/></clipPath>
<path clip-path="url(#c60)" d="M223.20 291.90L232.75 282.35M223.20 304.40L232.75 294.85M223.20 316.90L232.75 307.35M223.20 329.40L232.75 319.85M223.20 341.90L232.75 332.35M223.20 354.40L232.75 344.85M223.20 366.90L232.75 357.35M223.20 379.40L232.75 369.85M223.20 391.90L232.75 382.35" stroke="#4a4a4a" stroke-width="0.85" fill="none"/>
<rect x="223.70" y="313.10" width="8.55" height="51.00" fill="none" stroke="#404040" stroke-width="1.05"/>
<rect x="232.25" y="308.50" width="8.55" height="55.60" fill="none" stroke="#404040" stroke-width="1.05"/>
<clipPath id="c62"><rect x="240.80" y="302.70" width="8.55" height="61.40"/></clipPath>
<path clip-path="url(#c62)" d="M240.30 278.40L249.85 287.95M240.30 290.90L249.85 300.45M240.30 303.40L249.85 312.95M240.30 315.90L249.85 325.45M240.30 328.40L249.85 337.95M240.30 340.90L249.85 350.45M240.30 353.40L249.85 362.95M240.30 365.90L249.85 375.45M240.30 378.40L249.85 387.95M240.30 390.90L249.85 400.45" stroke="#4a4a4a" stroke-width="0.85" fill="none"/>
<rect x="240.80" y="302.70" width="8.55" height="61.40" fill="none" stroke="#404040" stroke-width="1.05"/>
<rect x="249.35" y="310.90" width="8.55" height="53.20" fill="#d9d9d9"/>
<rect x="250.25" y="310.90" width="1.3" height="53.20" fill="#ececec"/>
<rect x="249.35" y="310.90" width="8.55" height="53.20" fill="none" stroke="#404040" stroke-width="1.05"/>
<line x1="227.97" y1="312.30" x2="227.97" y2="314.00" stroke="#505050" stroke-width="0.7"/>
<line x1="225.97" y1="312.30" x2="229.97" y2="312.30" stroke="#505050" stroke-width="0.8"/>
<line x1="225.97" y1="314.00" x2="229.97" y2="314.00" stroke="#505050" stroke-width="0.8"/>
<text x="227.97" y="311.50" font-size="11.2" text-anchor="middle" font-weight="normal" >b</text>
<line x1="236.53" y1="307.70" x2="236.53" y2="309.50" stroke="#505050" stroke-width="0.7"/>
<line x1="234.53" y1="307.70" x2="238.53" y2="307.70" stroke="#505050" stroke-width="0.8"/>
<line x1="234.53" y1="309.50" x2="238.53" y2="309.50" stroke="#505050" stroke-width="0.8"/>
<text x="236.53" y="306.00" font-size="11.2" text-anchor="middle" font-weight="normal" >ab</text>
<line x1="245.07" y1="302.30" x2="245.07" y2="303.30" stroke="#505050" stroke-width="0.7"/>
<line x1="243.07" y1="302.30" x2="247.07" y2="302.30" stroke="#505050" stroke-width="0.8"/>
<line x1="243.07" y1="303.30" x2="247.07" y2="303.30" stroke="#505050" stroke-width="0.8"/>
<text x="245.07" y="300.00" font-size="11.2" text-anchor="middle" font-weight="normal" >a</text>
<line x1="253.62" y1="310.10" x2="253.62" y2="311.80" stroke="#505050" stroke-width="0.7"/>
<line x1="251.62" y1="310.10" x2="255.62" y2="310.10" stroke="#505050" stroke-width="0.8"/>
<line x1="251.62" y1="311.80" x2="255.62" y2="311.80" stroke="#505050" stroke-width="0.8"/>
<text x="253.62" y="308.50" font-size="11.2" text-anchor="middle" font-weight="normal" >ab</text>
<rect x="40.50" y="211.80" width="230.50" height="152.30" fill="none" stroke="#262626" stroke-width="1.1"/>
<line x1="35.50" y1="364.10" x2="40.50" y2="364.10" stroke="#262626" stroke-width="1.05"/>
<text transform="translate(32.60,367.90) scale(0.94,1)" font-size="11.70" text-anchor="end" font-weight="normal" >0.0</text>
<line x1="35.50" y1="313.33" x2="40.50" y2="313.33" stroke="#262626" stroke-width="1.05"/>
<text transform="translate(32.60,317.13) scale(0.94,1)" font-size="11.70" text-anchor="end" font-weight="normal" >0.4</text>
<line x1="35.50" y1="262.57" x2="40.50" y2="262.57" stroke="#262626" stroke-width="1.05"/>
<text transform="translate(32.60,266.37) scale(0.94,1)" font-size="11.70" text-anchor="end" font-weight="normal" >0.8</text>
<line x1="35.50" y1="211.80" x2="40.50" y2="211.80" stroke="#262626" stroke-width="1.05"/>
<text transform="translate(32.60,215.60) scale(0.94,1)" font-size="11.70" text-anchor="end" font-weight="normal" >1.2</text>
<text transform="translate(71.00,377.90) scale(0.94,1)" font-size="11.70" text-anchor="middle" font-weight="normal" >Inital</text>
<text transform="translate(112.90,377.90) scale(0.94,1)" font-size="11.70" text-anchor="middle" font-weight="normal" >2</text>
<text transform="translate(155.50,377.90) scale(0.94,1)" font-size="11.70" text-anchor="middle" font-weight="normal" >4</text>
<text transform="translate(198.00,377.90) scale(0.94,1)" font-size="11.70" text-anchor="middle" font-weight="normal" >6</text>
<text transform="translate(241.00,377.90) scale(0.94,1)" font-size="11.70" text-anchor="middle" font-weight="normal" >8</text>
<text x="43.40" y="221.30" font-size="9.7" text-anchor="start" font-weight="normal" textLength="88.0" lengthAdjust="spacingAndGlyphs">Gap size (GS): <tspan font-style="italic">P</tspan>=0.071</text>
<text x="42.80" y="229.90" font-size="9.7" text-anchor="start" font-weight="normal" textLength="95.5" lengthAdjust="spacingAndGlyphs">Sample time (T): <tspan font-style="italic">P</tspan>&lt;0.001</text>
<text x="45.70" y="238.60" font-size="9.7" text-anchor="start" font-weight="normal" textLength="68.0" lengthAdjust="spacingAndGlyphs">GS × ST: <tspan font-style="italic">P</tspan>=0.033</text>
<text x="268.50" y="222.60" font-size="11" text-anchor="end" font-weight="normal" >(C)</text>
<text x="0" y="0" font-size="13.0" text-anchor="middle" transform="translate(13.40,287.20) rotate(-90)">Fulvic acids (g)</text>
<clipPath id="c64"><rect x="319.90" y="284.40" width="9.28" height="80.20"/></clipPath>
<path clip-path="url(#c64)" d="M319.40 260.20L329.68 249.92M319.40 272.80L329.68 262.52M319.40 285.40L329.68 275.12M319.40 298.00L329.68 287.72M319.40 310.60L329.68 300.32M319.40 323.20L329.68 312.92M319.40 335.80L329.68 325.52M319.40 348.40L329.68 338.12M319.40 361.00L329.68 350.72M319.40 373.60L329.68 363.32M319.40 386.20L329.68 375.92M319.40 398.80L329.68 388.52" stroke="#4a4a4a" stroke-width="0.85" fill="none"/>
<rect x="319.90" y="284.40" width="9.28" height="80.20" fill="none" stroke="#404040" stroke-width="1.05"/>
<rect x="329.18" y="284.40" width="9.28" height="80.20" fill="none" stroke="#404040" stroke-width="1.05"/>
<clipPath id="c66"><rect x="338.46" y="284.40" width="9.28" height="80.20"/></clipPath>
<path clip-path="url(#c66)" d="M337.96 259.10L348.24 269.38M337.96 271.70L348.24 281.98M337.96 284.30L348.24 294.58M337.96 296.90L348.24 307.18M337.96 309.50L348.24 319.78M337.96 322.10L348.24 332.38M337.96 334.70L348.24 344.98M337.96 347.30L348.24 357.58M337.96 359.90L348.24 370.18M337.96 372.50L348.24 382.78M337.96 385.10L348.24 395.38M337.96 397.70L348.24 407.98" stroke="#4a4a4a" stroke-width="0.85" fill="none"/>
<rect x="338.46" y="284.40" width="9.28" height="80.20" fill="none" stroke="#404040" stroke-width="1.05"/>
<rect x="347.74" y="284.40" width="9.28" height="80.20" fill="#d9d9d9"/>
<rect x="348.64" y="284.40" width="1.3" height="80.20" fill="#ececec"/>
<rect x="347.74" y="284.40" width="9.28" height="80.20" fill="none" stroke="#404040" stroke-width="1.05"/>
<clipPath id="c68"><rect x="365.87" y="277.20" width="9.28" height="87.40"/></clipPath>
<path clip-path="url(#c68)" d="M365.37 247.60L375.65 237.32M365.37 260.20L375.65 249.92M365.37 272.80L375.65 262.52M365.37 285.40L375.65 275.12M365.37 298.00L375.65 287.72M365.37 310.60L375.65 300.32M365.37 323.20L375.65 312.92M365.37 335.80L375.65 325.52M365.37 348.40L375.65 338.12M365.37 361.00L375.65 350.72M365.37 373.60L375.65 363.32M365.37 386.20L375.65 375.92M365.37 398.80L375.65 388.52" stroke="#4a4a4a" stroke-width="0.85" fill="none"/>
<rect x="365.87" y="277.20" width="9.28" height="87.40" fill="none" stroke="#404040" stroke-width="1.05"/>
<rect x="375.15" y="287.40" width="9.28" height="77.20" fill="none" stroke="#404040" stroke-width="1.05"/>
<clipPath id="c70"><rect x="384.43" y="279.40" width="9.28" height="85.20"/></clipPath>
<path clip-path="url(#c70)" d="M383.93 246.50L394.21 256.78M383.93 259.10L394.21 269.38M383.93 271.70L394.21 281.98M383.93 284.30L394.21 294.58M383.93 296.90L394.21 307.18M383.93 309.50L394.21 319.78M383.93 322.10L394.21 332.38M383.93 334.70L394.21 344.98M383.93 347.30L394.21 357.58M383.93 359.90L394.21 370.18M383.93 372.50L394.21 382.78M383.93 385.10L394.21 395.38M383.93 397.70L394.21 407.98" stroke="#4a4a4a" stroke-width="0.85" fill="none"/>
<rect x="384.43" y="279.40" width="9.28" height="85.20" fill="none" stroke="#404040" stroke-width="1.05"/>
<rect x="393.71" y="259.20" width="9.28" height="105.40" fill="#d9d9d9"/>
<rect x="394.61" y="259.20" width="1.3" height="105.40" fill="#ececec"/>
<rect x="393.71" y="259.20" width="9.28" height="105.40" fill="none" stroke="#404040" stroke-width="1.05"/>
<line x1="370.51" y1="276.80" x2="370.51" y2="277.60" stroke="#505050" stroke-width="0.7"/>
<line x1="368.51" y1="276.80" x2="372.51" y2="276.80" stroke="#505050" stroke-width="0.8"/>
<line x1="368.51" y1="277.60" x2="372.51" y2="277.60" stroke="#505050" stroke-width="0.8"/>
<text x="370.51" y="274.00" font-size="11.2" text-anchor="middle" font-weight="normal" >b</text>
<line x1="379.79" y1="285.50" x2="379.79" y2="289.10" stroke="#505050" stroke-width="0.7"/>
<line x1="377.79" y1="285.50" x2="381.79" y2="285.50" stroke="#505050" stroke-width="0.8"/>
<line x1="377.79" y1="289.10" x2="381.79" y2="289.10" stroke="#505050" stroke-width="0.8"/>
<text x="379.79" y="283.30" font-size="11.2" text-anchor="middle" font-weight="normal" >b</text>
<line x1="389.07" y1="276.60" x2="389.07" y2="281.80" stroke="#505050" stroke-width="0.7"/>
<line x1="387.07" y1="276.60" x2="391.07" y2="276.60" stroke="#505050" stroke-width="0.8"/>
<line x1="387.07" y1="281.80" x2="391.07" y2="281.80" stroke="#505050" stroke-width="0.8"/>
<text x="389.07" y="274.60" font-size="11.2" text-anchor="middle" font-weight="normal" >b</text>
<line x1="398.35" y1="256.10" x2="398.35" y2="262.80" stroke="#505050" stroke-width="0.7"/>
<line x1="396.35" y1="256.10" x2="400.35" y2="256.10" stroke="#505050" stroke-width="0.8"/>
<line x1="396.35" y1="262.80" x2="400.35" y2="262.80" stroke="#505050" stroke-width="0.8"/>
<text x="398.35" y="253.40" font-size="11.2" text-anchor="middle" font-weight="normal" >a</text>
<clipPath id="c72"><rect x="411.84" y="272.00" width="9.28" height="92.60"/></clipPath>
<path clip-path="url(#c72)" d="M411.34 247.60L421.62 237.32M411.34 260.20L421.62 249.92M411.34 272.80L421.62 262.52M411.34 285.40L421.62 275.12M411.34 298.00L421.62 287.72M411.34 310.60L421.62 300.32M411.34 323.20L421.62 312.92M411.34 335.80L421.62 325.52M411.34 348.40L421.62 338.12M411.34 361.00L421.62 350.72M411.34 373.60L421.62 363.32M411.34 386.20L421.62 375.92M411.34 398.80L421.62 388.52" stroke="#4a4a4a" stroke-width="0.85" fill="none"/>
<rect x="411.84" y="272.00" width="9.28" height="92.60" fill="none" stroke="#404040" stroke-width="1.05"/>
<rect x="421.12" y="270.30" width="9.28" height="94.30" fill="none" stroke="#404040" stroke-width="1.05"/>
<clipPath id="c74"><rect x="430.40" y="260.10" width="9.28" height="104.50"/></clipPath>
<path clip-path="url(#c74)" d="M429.90 233.90L440.18 244.18M429.90 246.50L440.18 256.78M429.90 259.10L440.18 269.38M429.90 271.70L440.18 281.98M429.90 284.30L440.18 294.58M429.90 296.90L440.18 307.18M429.90 309.50L440.18 319.78M429.90 322.10L440.18 332.38M429.90 334.70L440.18 344.98M429.90 347.30L440.18 357.58M429.90 359.90L440.18 370.18M429.90 372.50L440.18 382.78M429.90 385.10L440.18 395.38M429.90 397.70L440.18 407.98" stroke="#4a4a4a" stroke-width="0.85" fill="none"/>
<rect x="430.40" y="260.10" width="9.28" height="104.50" fill="none" stroke="#404040" stroke-width="1.05"/>
<rect x="439.68" y="267.60" width="9.28" height="97.00" fill="#d9d9d9"/>
<rect x="440.58" y="267.60" width="1.3" height="97.00" fill="#ececec"/>
<rect x="439.68" y="267.60" width="9.28" height="97.00" fill="none" stroke="#404040" stroke-width="1.05"/>
<line x1="416.48" y1="270.30" x2="416.48" y2="274.30" stroke="#505050" stroke-width="0.7"/>
<line x1="414.48" y1="270.30" x2="418.48" y2="270.30" stroke="#505050" stroke-width="0.8"/>
<line x1="414.48" y1="274.30" x2="418.48" y2="274.30" stroke="#505050" stroke-width="0.8"/>
<text x="416.48" y="268.60" font-size="11.2" text-anchor="middle" font-weight="normal" >a</text>
<line x1="425.76" y1="266.40" x2="425.76" y2="274.30" stroke="#505050" stroke-width="0.7"/>
<line x1="423.76" y1="266.40" x2="427.76" y2="266.40" stroke="#505050" stroke-width="0.8"/>
<line x1="423.76" y1="274.30" x2="427.76" y2="274.30" stroke="#505050" stroke-width="0.8"/>
<text x="425.76" y="264.40" font-size="11.2" text-anchor="middle" font-weight="normal" >a</text>
<line x1="435.04" y1="259.70" x2="435.04" y2="261.00" stroke="#505050" stroke-width="0.7"/>
<line x1="433.04" y1="259.70" x2="437.04" y2="259.70" stroke="#505050" stroke-width="0.8"/>
<line x1="433.04" y1="261.00" x2="437.04" y2="261.00" stroke="#505050" stroke-width="0.8"/>
<text x="435.04" y="255.70" font-size="11.2" text-anchor="middle" font-weight="normal" >a</text>
<line x1="444.32" y1="264.10" x2="444.32" y2="271.60" stroke="#505050" stroke-width="0.7"/>
<line x1="442.32" y1="264.10" x2="446.32" y2="264.10" stroke="#505050" stroke-width="0.8"/>
<line x1="442.32" y1="271.60" x2="446.32" y2="271.60" stroke="#505050" stroke-width="0.8"/>
<text x="444.32" y="262.70" font-size="11.2" text-anchor="middle" font-weight="normal" >a</text>
<clipPath id="c76"><rect x="457.81" y="245.20" width="9.28" height="119.40"/></clipPath>
<path clip-path="url(#c76)" d="M457.31 222.40L467.59 212.12M457.31 235.00L467.59 224.72M457.31 247.60L467.59 237.32M457.31 260.20L467.59 249.92M457.31 272.80L467.59 262.52M457.31 285.40L467.59 275.12M457.31 298.00L467.59 287.72M457.31 310.60L467.59 300.32M457.31 323.20L467.59 312.92M457.31 335.80L467.59 325.52M457.31 348.40L467.59 338.12M457.31 361.00L467.59 350.72M457.31 373.60L467.59 363.32M457.31 386.20L467.59 375.92M457.31 398.80L467.59 388.52" stroke="#4a4a4a" stroke-width="0.85" fill="none"/>
<rect x="457.81" y="245.20" width="9.28" height="119.40" fill="none" stroke="#404040" stroke-width="1.05"/>
<rect x="467.09" y="238.40" width="9.28" height="126.20" fill="none" stroke="#404040" stroke-width="1.05"/>
<clipPath id="c78"><rect x="476.37" y="245.20" width="9.28" height="119.40"/></clipPath>
<path clip-path="url(#c78)" d="M475.87 221.30L486.15 231.58M475.87 233.90L486.15 244.18M475.87 246.50L486.15 256.78M475.87 259.10L486.15 269.38M475.87 271.70L486.15 281.98M475.87 284.30L486.15 294.58M475.87 296.90L486.15 307.18M475.87 309.50L486.15 319.78M475.87 322.10L486.15 332.38M475.87 334.70L486.15 344.98M475.87 347.30L486.15 357.58M475.87 359.90L486.15 370.18M475.87 372.50L486.15 382.78M475.87 385.10L486.15 395.38M475.87 397.70L486.15 407.98" stroke="#4a4a4a" stroke-width="0.85" fill="none"/>
<rect x="476.37" y="245.20" width="9.28" height="119.40" fill="none" stroke="#404040" stroke-width="1.05"/>
<rect x="485.65" y="241.30" width="9.28" height="123.30" fill="#d9d9d9"/>
<rect x="486.55" y="241.30" width="1.3" height="123.30" fill="#ececec"/>
<rect x="485.65" y="241.30" width="9.28" height="123.30" fill="none" stroke="#404040" stroke-width="1.05"/>
<line x1="462.45" y1="240.80" x2="462.45" y2="249.80" stroke="#505050" stroke-width="0.7"/>
<line x1="460.45" y1="240.80" x2="464.45" y2="240.80" stroke="#505050" stroke-width="0.8"/>
<line x1="460.45" y1="249.80" x2="464.45" y2="249.80" stroke="#505050" stroke-width="0.8"/>
<text x="462.45" y="239.70" font-size="11.2" text-anchor="middle" font-weight="normal" >a</text>
<line x1="471.73" y1="233.80" x2="471.73" y2="243.00" stroke="#505050" stroke-width="0.7"/>
<line x1="469.73" y1="233.80" x2="473.73" y2="233.80" stroke="#505050" stroke-width="0.8"/>
<line x1="469.73" y1="243.00" x2="473.73" y2="243.00" stroke="#505050" stroke-width="0.8"/>
<text x="471.73" y="232.60" font-size="11.2" text-anchor="middle" font-weight="normal" >a</text>
<line x1="481.01" y1="243.00" x2="481.01" y2="246.20" stroke="#505050" stroke-width="0.7"/>
<line x1="479.01" y1="243.00" x2="483.01" y2="243.00" stroke="#505050" stroke-width="0.8"/>
<line x1="479.01" y1="246.20" x2="483.01" y2="246.20" stroke="#505050" stroke-width="0.8"/>
<text x="481.01" y="241.30" font-size="11.2" text-anchor="middle" font-weight="normal" >a</text>
<line x1="490.29" y1="238.70" x2="490.29" y2="243.60" stroke="#505050" stroke-width="0.7"/>
<line x1="488.29" y1="238.70" x2="492.29" y2="238.70" stroke="#505050" stroke-width="0.8"/>
<line x1="488.29" y1="243.60" x2="492.29" y2="243.60" stroke="#505050" stroke-width="0.8"/>
<text x="490.29" y="237.50" font-size="11.2" text-anchor="middle" font-weight="normal" >a</text>
<clipPath id="c80"><rect x="503.78" y="238.40" width="9.28" height="126.20"/></clipPath>
<path clip-path="url(#c80)" d="M503.28 209.80L513.56 199.52M503.28 222.40L513.56 212.12M503.28 235.00L513.56 224.72M503.28 247.60L513.56 237.32M503.28 260.20L513.56 249.92M503.28 272.80L513.56 262.52M503.28 285.40L513.56 275.12M503.28 298.00L513.56 287.72M503.28 310.60L513.56 300.32M503.28 323.20L513.56 312.92M503.28 335.80L513.56 325.52M503.28 348.40L513.56 338.12M503.28 361.00L513.56 350.72M503.28 373.60L513.56 363.32M503.28 386.20L513.56 375.92M503.28 398.80L513.56 388.52" stroke="#4a4a4a" stroke-width="0.85" fill="none"/>
<rect x="503.78" y="238.40" width="9.28" height="126.20" fill="none" stroke="#404040" stroke-width="1.05"/>
<rect x="513.06" y="244.90" width="9.28" height="119.70" fill="none" stroke="#404040" stroke-width="1.05"/>
<clipPath id="c82"><rect x="522.34" y="244.90" width="9.28" height="119.70"/></clipPath>
<path clip-path="url(#c82)" d="M521.84 221.30L532.12 231.58M521.84 233.90L532.12 244.18M521.84 246.50L532.12 256.78M521.84 259.10L532.12 269.38M521.84 271.70L532.12 281.98M521.84 284.30L532.12 294.58M521.84 296.90L532.12 307.18M521.84 309.50L532.12 319.78M521.84 322.10L532.12 332.38M521.84 334.70L532.12 344.98M521.84 347.30L532.12 357.58M521.84 359.90L532.12 370.18M521.84 372.50L532.12 382.78M521.84 385.10L532.12 395.38M521.84 397.70L532.12 407.98" stroke="#4a4a4a" stroke-width="0.85" fill="none"/>
<rect x="522.34" y="244.90" width="9.28" height="119.70" fill="none" stroke="#404040" stroke-width="1.05"/>
<rect x="531.62" y="246.20" width="9.28" height="118.40" fill="#d9d9d9"/>
<rect x="532.52" y="246.20" width="1.3" height="118.40" fill="#ececec"/>
<rect x="531.62" y="246.20" width="9.28" height="118.40" fill="none" stroke="#404040" stroke-width="1.05"/>
<line x1="508.42" y1="236.40" x2="508.42" y2="243.30" stroke="#505050" stroke-width="0.7"/>
<line x1="506.42" y1="236.40" x2="510.42" y2="236.40" stroke="#505050" stroke-width="0.8"/>
<line x1="506.42" y1="243.30" x2="510.42" y2="243.30" stroke="#505050" stroke-width="0.8"/>
<text x="508.42" y="234.80" font-size="11.2" text-anchor="middle" font-weight="normal" >a</text>
<line x1="517.70" y1="238.40" x2="517.70" y2="249.80" stroke="#505050" stroke-width="0.7"/>
<line x1="515.70" y1="238.40" x2="519.70" y2="238.40" stroke="#505050" stroke-width="0.8"/>
<line x1="515.70" y1="249.80" x2="519.70" y2="249.80" stroke="#505050" stroke-width="0.8"/>
<text x="517.70" y="237.00" font-size="11.2" text-anchor="middle" font-weight="normal" >a</text>
<line x1="526.98" y1="241.60" x2="526.98" y2="248.20" stroke="#505050" stroke-width="0.7"/>
<line x1="524.98" y1="241.60" x2="528.98" y2="241.60" stroke="#505050" stroke-width="0.8"/>
<line x1="524.98" y1="248.20" x2="528.98" y2="248.20" stroke="#505050" stroke-width="0.8"/>
<text x="526.98" y="240.30" font-size="11.2" text-anchor="middle" font-weight="normal" >a</text>
<line x1="536.26" y1="244.60" x2="536.26" y2="249.00" stroke="#505050" stroke-width="0.7"/>
<line x1="534.26" y1="244.60" x2="538.26" y2="244.60" stroke="#505050" stroke-width="0.8"/>
<line x1="534.26" y1="249.00" x2="538.26" y2="249.00" stroke="#505050" stroke-width="0.8"/>
<text x="536.26" y="243.00" font-size="11.2" text-anchor="middle" font-weight="normal" >a</text>
<rect x="315.20" y="211.80" width="230.30" height="152.80" fill="none" stroke="#262626" stroke-width="1.1"/>
<line x1="309.80" y1="364.60" x2="315.20" y2="364.60" stroke="#262626" stroke-width="1.05"/>
<text transform="translate(306.80,368.40) scale(0.94,1)" font-size="11.28" text-anchor="end" font-weight="normal" >0.0</text>
<line x1="309.80" y1="313.67" x2="315.20" y2="313.67" stroke="#262626" stroke-width="1.05"/>
<text transform="translate(306.80,317.47) scale(0.94,1)" font-size="11.28" text-anchor="end" font-weight="normal" >0.4</text>
<line x1="309.80" y1="262.73" x2="315.20" y2="262.73" stroke="#262626" stroke-width="1.05"/>
<text transform="translate(306.80,266.53) scale(0.94,1)" font-size="11.28" text-anchor="end" font-weight="normal" >0.8</text>
<line x1="309.80" y1="211.80" x2="315.20" y2="211.80" stroke="#262626" stroke-width="1.05"/>
<text transform="translate(306.80,215.60) scale(0.94,1)" font-size="11.28" text-anchor="end" font-weight="normal" >1.2</text>
<line x1="338.46" y1="364.60" x2="338.46" y2="368.40" stroke="#141414" stroke-width="1.0"/>
<line x1="384.43" y1="364.60" x2="384.43" y2="368.40" stroke="#141414" stroke-width="1.0"/>
<line x1="430.40" y1="364.60" x2="430.40" y2="368.40" stroke="#141414" stroke-width="1.0"/>
<line x1="476.37" y1="364.60" x2="476.37" y2="368.40" stroke="#141414" stroke-width="1.0"/>
<line x1="522.34" y1="364.60" x2="522.34" y2="368.40" stroke="#141414" stroke-width="1.0"/>
<text transform="translate(338.50,381.60) scale(0.94,1)" font-size="11.70" text-anchor="middle" font-weight="normal" >Inital</text>
<text transform="translate(384.20,381.60) scale(0.94,1)" font-size="11.70" text-anchor="middle" font-weight="normal" >2</text>
<text transform="translate(430.30,381.60) scale(0.94,1)" font-size="11.70" text-anchor="middle" font-weight="normal" >4</text>
<text transform="translate(476.30,381.60) scale(0.94,1)" font-size="11.70" text-anchor="middle" font-weight="normal" >6</text>
<text transform="translate(522.50,381.60) scale(0.94,1)" font-size="11.70" text-anchor="middle" font-weight="normal" >8</text>
<text x="318.20" y="221.30" font-size="9.7" text-anchor="start" font-weight="normal" textLength="88.2" lengthAdjust="spacingAndGlyphs">Gap size (GS): <tspan font-style="italic">P</tspan>=0.849</text>
<text x="317.60" y="229.90" font-size="9.7" text-anchor="start" font-weight="normal" textLength="95.5" lengthAdjust="spacingAndGlyphs">Sample time (T): <tspan font-style="italic">P</tspan>&lt;0.001</text>
<text x="321.30" y="238.60" font-size="9.7" text-anchor="start" font-weight="normal" textLength="68.0" lengthAdjust="spacingAndGlyphs">GS × ST: <tspan font-style="italic">P</tspan>=0.404</text>
<text x="543.80" y="222.60" font-size="11" text-anchor="end" font-weight="normal" >(D)</text>
<text x="0" y="0" font-size="12.6" text-anchor="middle" transform="translate(289.30,288.80) rotate(-90)">Humic acid to fulvic acid ratio</text>
<text transform="translate(149.20,396.20) scale(0.94,1)" font-size="13.19" text-anchor="middle" font-weight="normal" >Decomposition time (year)</text>
<text transform="translate(430.80,396.60) scale(0.965,1)" font-size="13.19" text-anchor="middle" font-weight="normal" >Decomposition time (year)</text>
</svg>
</body></html>
